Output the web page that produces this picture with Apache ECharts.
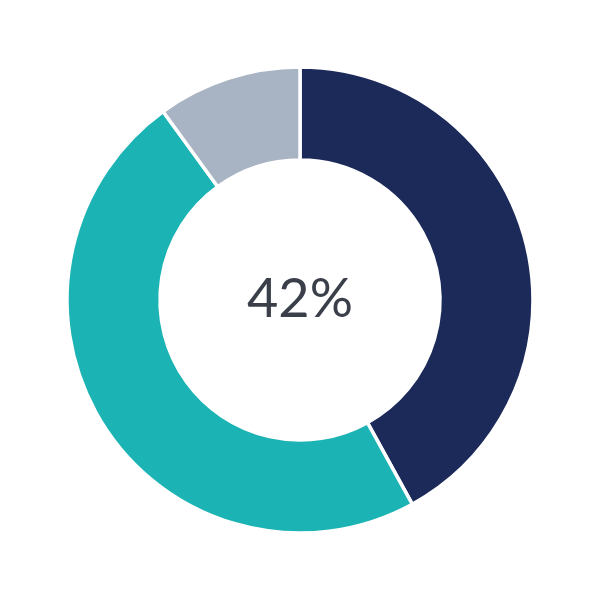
<!DOCTYPE html>
<html><head><meta charset="utf-8">
<script src="https://cdn.jsdelivr.net/npm/echarts@6/dist/echarts.min.js"></script>
<style>html,body{margin:0;padding:0;background:#fff}#c{width:600px;height:600px}</style>
</head><body><div id="c"></div>
<script>
const categories = ['A', 'B', 'C'];
const values = [42, 48, 10];
const colors = ['#1c2a5a', '#1bb3b4', '#a8b3c3'];
const centerLabel = '42%';

const chart = echarts.init(document.getElementById('c'));
chart.setOption({
  animation: false,
  title: {
    text: centerLabel,
    left: 'center',
    top: 'middle',
    textStyle: { fontFamily: 'Lato', fontWeight: 'normal', fontSize: 54, color: '#3a3f4a' }
  },
  series: [{
    type: 'pie',
    center: [300, 300],
    radius: [140, 233],
    startAngle: 90,
    clockwise: true,
    label: { show: false },
    labelLine: { show: false },
    emphasis: { disabled: true },
    itemStyle: { borderColor: '#fff', borderWidth: 3.5 },
    data: categories.map((c, i) => ({ name: c, value: values[i], itemStyle: { color: colors[i] } }))
  }]
});
</script></body></html>
